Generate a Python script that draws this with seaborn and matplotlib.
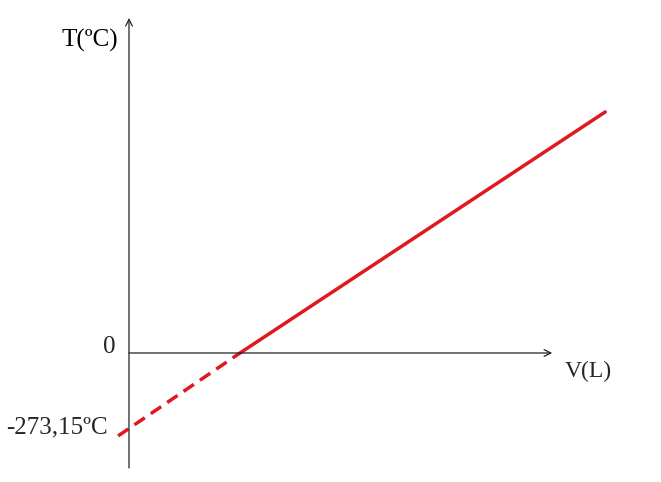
import matplotlib
matplotlib.use("Agg")
import matplotlib.pyplot as plt
import seaborn as sns
import pandas as pd

# Data
dashed_V = [-2.2, 22.4]
dashed_T = [-300.0, 0.0]
solid_V = [22.4, 96.1]
solid_T = [0.0, 872.0]
tick_T = [0.0, -273.15]
tick_labels = ["0", "-273,15ºC"]
x_label = "V(L)"
y_label = "T(ºC)"

sns.set_style("white")
plt.rcParams['font.family'] = ['Liberation Serif', 'DejaVu Serif']

fig = plt.figure(figsize=(6.61, 4.82), dpi=100)
ax = fig.add_axes([0, 0, 1, 1])
ax.set_xlim(-26.03, 107.36)
ax.set_ylim(-466.7, 1277.0)
ax.axis("off")

red = "#e01820"
df_d = pd.DataFrame({"V": dashed_V, "T": dashed_T})
df_s = pd.DataFrame({"V": solid_V, "T": solid_T})
sns.lineplot(data=df_d, x="V", y="T", ax=ax, color=red, lw=2.5,
             linestyle=(0, (3.6, 2.1)), solid_capstyle="butt")
sns.lineplot(data=df_s, x="V", y="T", ax=ax, color=red, lw=2.5)

axcol = "#222222"
# vertical axis with arrow
ax.annotate("", xy=(0, 1212), xytext=(0, -416),
            arrowprops=dict(arrowstyle="->", color=axcol, lw=0.9,
                            shrinkA=0, shrinkB=0, mutation_scale=12))
# horizontal axis with arrow
ax.annotate("", xy=(85.4, 0), xytext=(0, 0),
            arrowprops=dict(arrowstyle="->", color=axcol, lw=0.9,
                            shrinkA=0, shrinkB=0, mutation_scale=12))

ax.text(-2.2, 1132, y_label, ha="right", va="center", fontsize=18, color="black")
ax.text(-2.8, tick_T[0] + 22, tick_labels[0], ha="right", va="center", fontsize=18)
ax.text(-4.2, tick_T[1] + 2, tick_labels[1], ha="right", va="center", fontsize=18)
ax.text(88.0, -68, x_label, ha="left", va="center", fontsize=17)

fig.savefig("out.png", dpi=100)
